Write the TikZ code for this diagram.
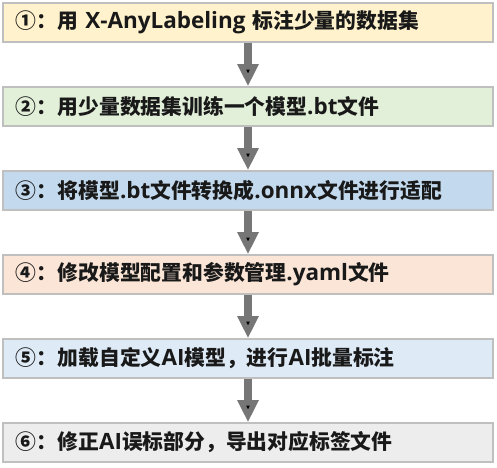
\documentclass[tikz,border=0pt]{standalone}
\usepackage{fontspec}
\setmainfont{Noto Sans CJK SC}
\newfontfamily\latin{Open Sans}[Scale=1.08]
\usetikzlibrary{arrows.meta, positioning}
\definecolor{boxline}{HTML}{BFBFBF}
\definecolor{arrowgray}{HTML}{767676}
\definecolor{fillone}{HTML}{FFF2CC}
\definecolor{filltwo}{HTML}{E2F0D9}
\definecolor{fillthree}{HTML}{C3D9EE}
\definecolor{fillfour}{HTML}{FBE5D6}
\definecolor{fillfive}{HTML}{DEEBF7}
\definecolor{fillsix}{HTML}{EDEDED}

\begin{document}
\begin{tikzpicture}[-{Triangle[length=22pt,width=20pt]},node distance=84pt,
    stepbox/.style={draw=boxline, line width=1.6pt, text width=464pt, inner xsep=13pt,
        minimum height=39pt, align=left, text=black!90,
        font=\fontsize{20.8pt}{23pt}\selectfont\bfseries}]
                \useasboundingbox (0,0) rectangle (497pt,-467pt);
                \node[stepbox, fill=fillone] (1) at (248pt,-22.5pt) {①：用 {\latin X-AnyLabeling} 标注少量的数据集};
                \node[stepbox, fill=filltwo] (2) [below of = 1] {②：用少量数据集训练一个模型{\latin .bt}文件};
                \node[stepbox, fill=fillthree] (3) [below of = 2] {③：将模型{\latin .bt}文件转换成{\latin .onnx}文件进行适配};
                \node[stepbox, fill=fillfour] (4) [below of = 3] {④：修改模型配置和参数管理{\latin .yaml}文件};
                \node[stepbox, fill=fillfive] (5) [below of = 4] {⑤：加载自定义{\latin AI}模型，进行{\latin AI}批量标注};
                \node[stepbox, fill=fillsix] (6) [below of = 5] {⑥：修正{\latin AI}误标部分，导出对应标签文件};
                \path[line width=8pt, draw=arrowgray]
                (1) edge (2)
                (2) edge (3)
                (3) edge (4)
                (4) edge (5)
                (5) edge (6)
                ;
            \end{tikzpicture}
\end{document}
